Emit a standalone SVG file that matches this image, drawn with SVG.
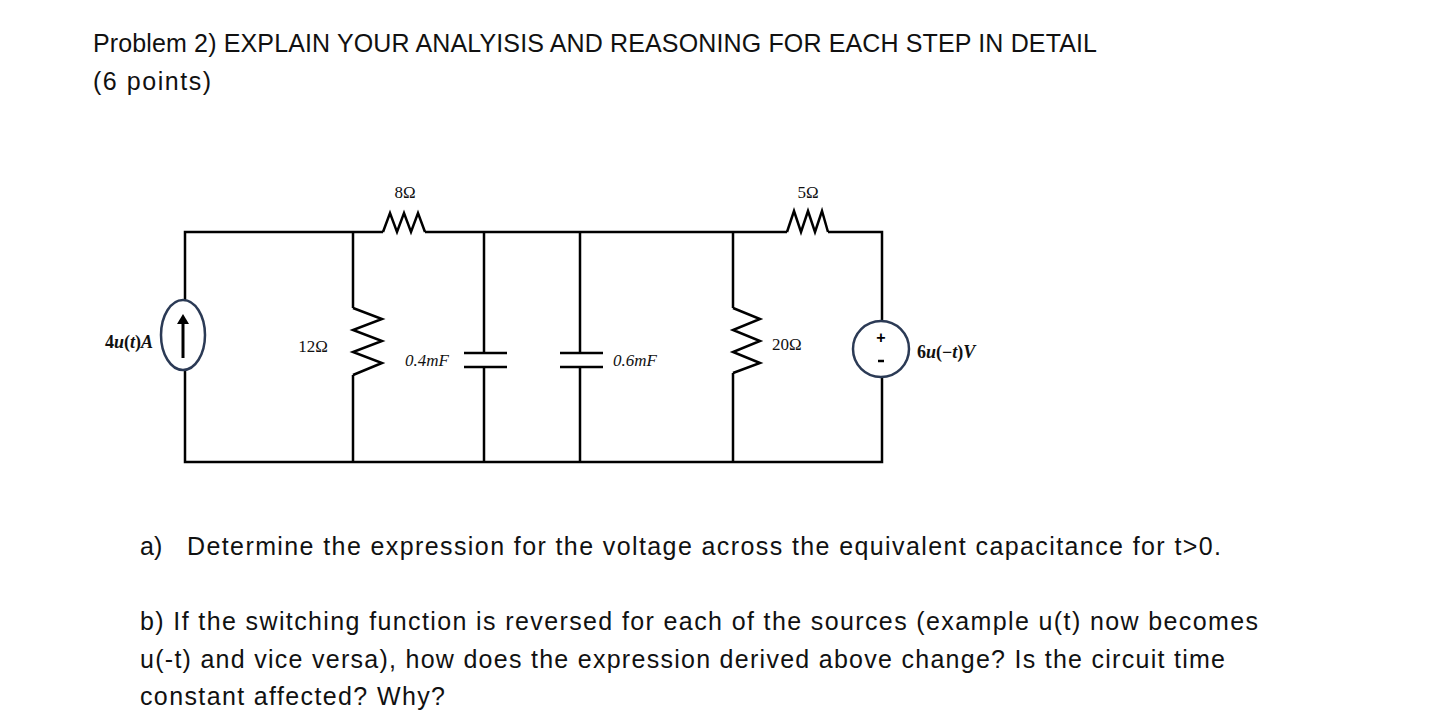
<svg xmlns="http://www.w3.org/2000/svg" width="1442" height="726" viewBox="0 0 1442 726">
<style>
.w{stroke:#000;stroke-width:2.5;fill:none}
.t{font-family:"Liberation Sans",Arial,sans-serif;font-size:25px;fill:#111}
.m{font-family:"Liberation Serif","Times New Roman",serif;font-size:17px;fill:#111}
.b{font-family:"Liberation Serif","Times New Roman",serif;font-size:18px;font-weight:bold;fill:#111}
.src{stroke:#2b3a55;stroke-width:2.5;fill:#fff}
</style>
<rect width="1442" height="726" fill="#fff"/>
<text class="t" x="93" y="52" textLength="1004">Problem 2) EXPLAIN YOUR ANALYISIS AND REASONING FOR EACH STEP IN DETAIL</text>
<text class="t" x="93" y="90" textLength="118">(6 points)</text>
<g id="connectors">
<path class="w" d="M185 300 V232 H383 M425 232 H787 M828 232 H882 V321 M882 377 V462 H185 V370"/>
<path class="w" d="M353 232 V308 M353 375 V462"/>
<path class="w" d="M484 232 V353 M484 367 V462"/>
<path class="w" d="M580 232 V353 M580 367 V462"/>
<path class="w" d="M733 232 V308 M733 373 V462"/>
</g>
<g id="isrc"><ellipse class="src" cx="183" cy="335" rx="22" ry="35"/><path d="M183 358 V322" stroke="#000" stroke-width="3"/><path d="M177 324 L183 314 L189 324 Z" fill="#000"/><text class="b" x="153" y="348" text-anchor="end">4<tspan font-style="italic">u</tspan>(<tspan font-style="italic">t</tspan>)<tspan font-style="italic">A</tspan></text></g>
<g id="r8"><path class="w" d="M383 232 L390 213 L397 232 L404 213 L411 232 L418 213 L425 232"/><text class="m" x="405" y="198" text-anchor="middle">8Ω</text></g>
<g id="r12"><path class="w" d="M353 308 L382 319 L353 330 L382 341 L353 352 L382 363 L353 375"/><text class="m" x="313" y="352" text-anchor="middle">12Ω</text></g>
<g id="c04"><path class="w" d="M464 353 H507 M464 367 H507"/><text class="m" x="427" y="366" text-anchor="middle" font-style="italic">0.4mF</text></g>
<g id="c06"><path class="w" d="M560 353 H603 M560 367 H603"/><text class="m" x="613" y="366" font-style="italic">0.6mF</text></g>
<g id="r20"><path class="w" d="M733 308 L760 319 L733 330 L760 341 L733 352 L760 363 L733 373"/><text class="m" x="772" y="350">20Ω</text></g>
<g id="r5"><path class="w" d="M787 232 L794 211 L801 232 L808 211 L815 232 L822 211 L828 232"/><text class="m" x="808" y="198" text-anchor="middle">5Ω</text></g>
<g id="vsrc"><circle class="src" cx="881" cy="349" r="28"/><text x="881" y="343" font-family="Liberation Sans,sans-serif" font-weight="bold" font-size="16" text-anchor="middle">+</text><path d="M878 361 H884" stroke="#000" stroke-width="2.5"/><text class="b" x="917" y="358">6<tspan font-style="italic">u</tspan>(−<tspan font-style="italic">t</tspan>)<tspan font-style="italic">V</tspan></text></g>
<text class="t" x="140" y="555">a)</text>
<text class="t" x="187" y="555" textLength="1034">Determine the expression for the voltage across the equivalent capacitance for t&gt;0.</text>
<text class="t" x="140" y="630" textLength="1118">b) If the switching function is reversed for each of the sources (example u(t) now becomes</text>
<text class="t" x="140" y="668" textLength="1085">u(-t) and vice versa), how does the expression derived above change? Is the circuit time</text>
<text class="t" x="140" y="705" textLength="305">constant affected? Why?</text>
</svg>
